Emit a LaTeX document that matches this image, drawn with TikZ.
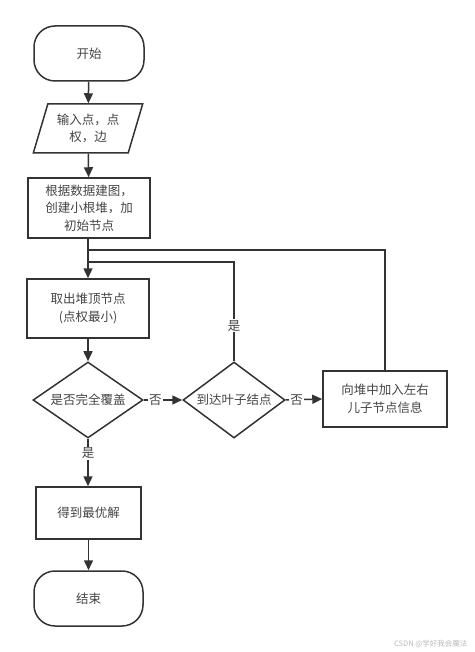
\documentclass[tikz,border=0pt]{standalone}
\usepackage{fontspec}
\setmainfont{Noto Sans CJK SC}
\usetikzlibrary{shapes.geometric,arrows.meta}
\definecolor{ln}{HTML}{333333}
\definecolor{tx}{HTML}{444444}
\tikzset{
  every node/.style={font=\fontsize{12.5}{17.5}\selectfont, text=tx},
  base/.style={draw=ln, line width=1.5pt, inner sep=0pt, align=center},
  term/.style={base, rounded corners=21pt, minimum width=#1, minimum height=55pt},
  proc/.style={base, rectangle},
  io/.style={base, trapezium, trapezium left angle=69, trapezium right angle=111, trapezium stretches=true, minimum width=110pt, minimum height=49pt},
  dec/.style={base, diamond, aspect=1.4},
  conn/.style={draw=ln, line width=1.5pt},
  arr/.style={conn, -{Triangle[length=10pt,width=9pt]}},
  lab/.style={fill=white, inner sep=1pt}
}
\begin{document}
\begin{tikzpicture}[x=1pt,y=-1pt]
\useasboundingbox (0,0) rectangle (474,652);
\node[term=110pt] (start) at (89,53.5) {开始};
\node[io] (input) at (88,128.5) {输入点，点\\权，边};
\node[proc, minimum width=122pt, minimum height=60pt] (build) at (89,208) {根据数据建图，\\创建小根堆，加\\初始节点};
\node[proc, minimum width=122pt, minimum height=59pt] (pop) at (88,308.5) {取出堆顶节点\\(点权最小)};
\node[dec, minimum width=110pt, minimum height=76pt] (cover) at (88,400) {是否完全覆盖};
\node[dec, minimum width=102pt, minimum height=76pt] (leaf) at (234,400) {到达叶子结点};
\node[proc, minimum width=124pt, minimum height=56pt] (push) at (385,399) {向堆中加入左右\\儿子节点信息};
\node[proc, minimum width=105pt, minimum height=52pt] (best) at (88.5,513) {得到最优解};
\node[term=109pt] (stop) at (88.5,598.5) {结束};
\coordinate (j1) at (88,250);
\coordinate (j2) at (88,262);
\draw[arr] (start) -- (input);
\draw[arr] (input) -- (build);
\draw[arr] (build.south -| pop.north) -- (pop.north);
\draw[conn] (push.north) |- (j1);
\draw[conn] (leaf.north) |- (j2) node[lab, pos=0.18] {是};
\draw[arr] (pop) -- (cover);
\draw[arr] (cover.east) -- (leaf.west) node[lab, pos=0.3] {否};
\draw[arr] (leaf.east) -- (push.west) node[lab, pos=0.3] {否};
\draw[arr] (cover.south) -- (best.north -| cover.south) node[lab, pos=0.3] {是};
\draw[arr] (best) -- (stop);
\node[font=\fontsize{7.5}{9}\selectfont, text=gray!55, anchor=east] (wm) at (471,644) {CSDN @学好我会魔法};
\end{tikzpicture}
\end{document}
